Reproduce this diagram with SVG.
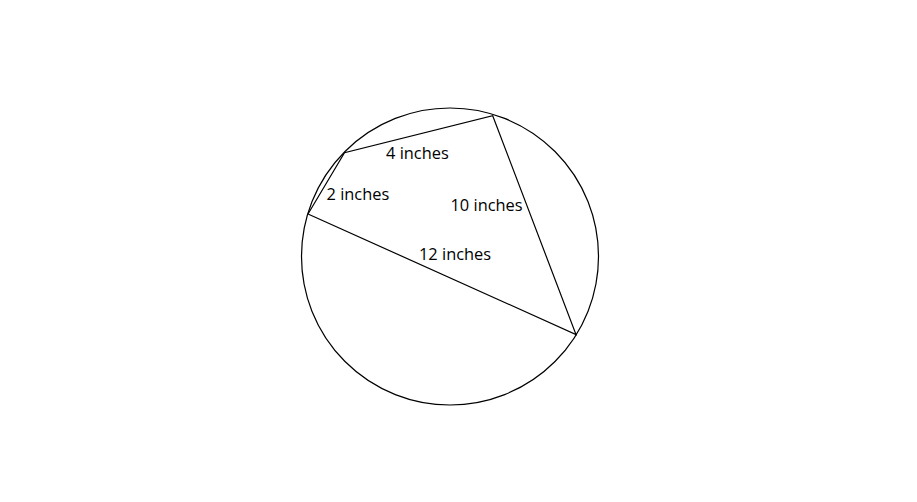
<svg xmlns="http://www.w3.org/2000/svg" width="917" height="502" viewBox="0 0 917 502">
<style>
.s{fill:none;stroke:#000;stroke-width:1.2}
text{font-family:"Open Sans","Noto Sans","Liberation Sans",sans-serif;font-size:16.4px;fill:#000}
</style>
<rect width="917" height="502" fill="#fff"/>
<g id="circle"><circle class="s" cx="450" cy="256.5" r="148.5"/></g>
<g id="connectors">
<polyline class="s" points="308,214 344.5,152.7 492.7,115.7 576,334.5 308,214"/>
</g>
<g id="labels">
<text x="386" y="158.5">4 inches</text>
<text x="326.5" y="200">2 inches</text>
<text x="450.5" y="210.5">10 inches</text>
<text x="419" y="259.5">12 inches</text>
</g>
</svg>
